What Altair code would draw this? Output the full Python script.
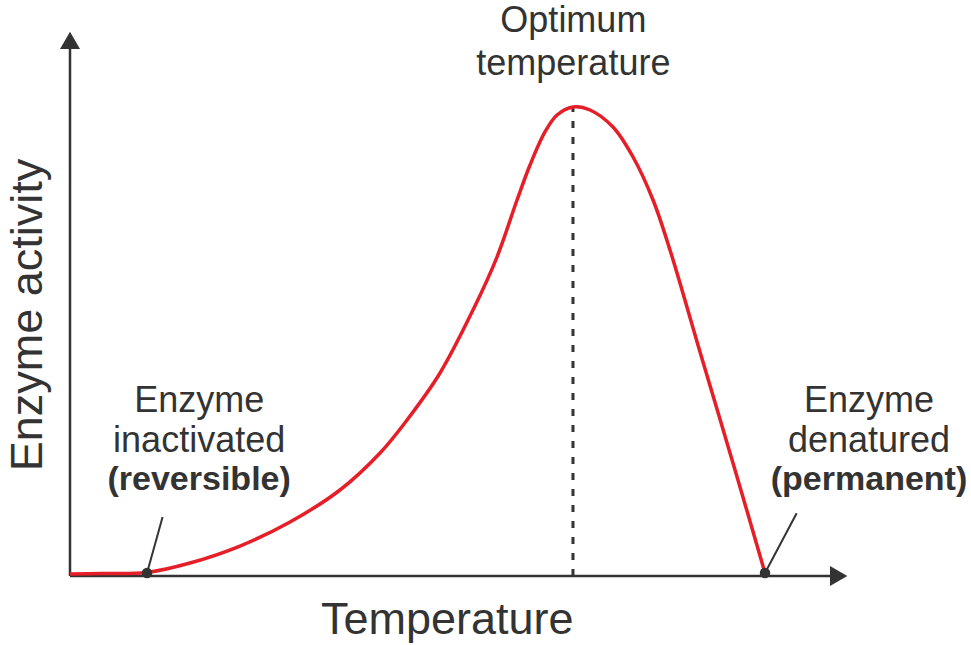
import altair as alt
import pandas as pd

# ---- data (temperature and activity in arbitrary units, 0-100) ----
curve_temp = [0, 3.86, 9.90, 15.42, 21.85, 28.28, 34.70, 39.85, 43.32, 47.56, 51.80,
              54.88, 57.46, 59.13, 61.05, 62.60, 64.65, 66.84, 69.79, 72.37, 74.94,
              77.12, 80.98, 85.48, 89.33]
curve_act = [0.37, 0.46, 0.65, 2.38, 5.49, 9.89, 15.75, 22.53, 28.57, 37.18, 48.72,
             58.42, 68.86, 75.27, 81.32, 84.43, 85.90, 85.35, 82.23, 76.74, 68.86,
             59.71, 41.03, 19.41, 0.55]

optimum_temp = 64.65
optimum_act = 85.9

dot_temp = [9.9, 89.33]
dot_act = [0.55, 0.55]
leader_end_temp = [11.9, 93.4]
leader_end_act = [10.8, 11.5]

label_lines = ["Optimum", "temperature",
               "Enzyme", "inactivated", "(reversible)",
               "Enzyme", "denatured", "(permanent)"]
label_x = [64.7, 64.7, 16.6, 16.6, 16.6, 102.7, 102.7, 102.7]
label_y = [99.6, 91.7, 30.1, 22.8, 15.8, 30.1, 22.8, 15.8]
label_bold = [False, False, False, False, True, False, False, True]

x_title = "Temperature"
y_title = "Enzyme activity"

# ---- tables ----
curve = pd.DataFrame({"t": curve_temp, "a": curve_act})
dots = pd.DataFrame({"t": dot_temp, "a": dot_act, "t2": leader_end_temp, "a2": leader_end_act})
labels = pd.DataFrame({"t": label_x, "a": label_y, "text": label_lines, "bold": label_bold})
opt = pd.DataFrame({"t": [optimum_temp], "a": [0], "a2": [optimum_act]})
axes_df = pd.DataFrame({"t": [0, 0], "a": [0, 0], "t2": [0, 97.7], "a2": [96.7, 0]})
arrows = pd.DataFrame({"t": [0, 98.8], "a": [98.1, 0]})
titles = pd.DataFrame({"t": [48.5, -3.6], "a": [-10.6, 47.8], "text": [x_title, y_title]})

xs = alt.Scale(domain=[0, 100], nice=False, zero=False)
ys = alt.Scale(domain=[0, 100], nice=False, zero=False)
X = lambda f="t": alt.X(f"{f}:Q", scale=xs, axis=None)
Y = lambda f="a": alt.Y(f"{f}:Q", scale=ys, axis=None)

INK = "#333333"
FONT = "Liberation Sans"

axis_lines = alt.Chart(axes_df).mark_rule(color=INK, strokeWidth=2.5).encode(
    x=X(), y=Y(), x2="t2:Q", y2="a2:Q")
arrow_up = alt.Chart(arrows.iloc[[0]]).mark_point(
    shape="triangle-up", size=400, filled=True, color=INK, opacity=1).encode(x=X(), y=Y())
arrow_right = alt.Chart(arrows.iloc[[1]]).mark_point(
    shape="triangle-right", size=400, filled=True, color=INK, opacity=1).encode(x=X(), y=Y())

dashed = alt.Chart(opt).mark_rule(color=INK, strokeWidth=3, strokeDash=[7, 9]).encode(
    x=X(), y=Y(), y2="a2:Q")

line = alt.Chart(curve).mark_line(color="#e61e28", strokeWidth=3.5,
                                  interpolate="catmull-rom").encode(x=X(), y=Y())

leaders = alt.Chart(dots).mark_rule(color=INK, strokeWidth=2).encode(
    x=X(), y=Y(), x2="t2:Q", y2="a2:Q")
dot_marks = alt.Chart(dots).mark_circle(size=110, color=INK, opacity=1).encode(x=X(), y=Y())

reg_text = alt.Chart(labels[~labels["bold"]]).mark_text(
    font=FONT, fontSize=36, color=INK, align="center", baseline="alphabetic").encode(
    x=X(), y=Y(), text="text:N")
bold_text = alt.Chart(labels[labels["bold"]]).mark_text(
    font=FONT, fontSize=34, fontWeight="bold", color=INK, align="center",
    baseline="alphabetic").encode(x=X(), y=Y(), text="text:N")

x_title_mark = alt.Chart(titles.iloc[[0]]).mark_text(
    font=FONT, fontSize=45, color=INK, align="center", baseline="alphabetic").encode(
    x=X(), y=Y(), text="text:N")
y_title_mark = alt.Chart(titles.iloc[[1]]).mark_text(
    font=FONT, fontSize=45, color=INK, align="center", baseline="alphabetic",
    angle=270).encode(x=X(), y=Y(), text="text:N")

chart = alt.layer(
    axis_lines, arrow_up, arrow_right, dashed, line, leaders, dot_marks,
    reg_text, bold_text, x_title_mark, y_title_mark
).properties(
    width=778, height=546,
    autosize=alt.AutoSizeParams(type="none"),
    padding={"left": 70, "top": 30, "right": 123, "bottom": 69},
    background="white",
).configure_view(stroke=None)

chart.save("out.html", embed_options={"renderer": "svg", "actions": False})
